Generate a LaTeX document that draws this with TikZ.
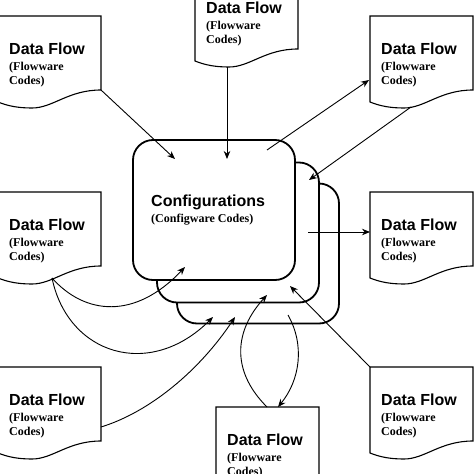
\documentclass[tikz,border=0pt]{standalone}
\usepackage{fontspec}
\setmainfont{Liberation Serif}
\setsansfont{Liberation Sans}
\usetikzlibrary{arrows.meta}

\tikzset{
  docline/.style={line width=1.1pt},
  cfgbox/.style={draw, line width=1.8pt, rounded corners=20pt, fill=white, rectangle,
    minimum width=162pt, minimum height=140pt, inner sep=0pt},
  conn/.style={line width=0.9pt, -{Stealth[length=8pt,width=6.5pt]}},
  titletext/.style={font=\sffamily\bfseries\fontsize{16}{18}\selectfont, inner sep=0pt, anchor=base west},
  subtext/.style={font=\rmfamily\bfseries\fontsize{12}{14}\selectfont, inner sep=0pt, anchor=base west},
}

\newcommand\DocShape[3]{%
  \begin{scope}[shift={(#2,#3)}]
    \draw[docline, fill=white] (0,0) -- (103,0) -- (103,74)
      .. controls (70,74) and (55,92) .. (34,92)
      .. controls (20,92) and (10,90) .. (0,86) -- cycle;
    \node[titletext] (#1) at (11,38) {Data Flow};
    \node[subtext] (#1-a) at (11,54) {(Flowware};
    \node[subtext] (#1-b) at (11,68) {Codes)};
  \end{scope}}

\begin{document}
\begin{tikzpicture}[x=1pt, y=-1pt]
\fill[white] (0,0) rectangle (474,474);
\useasboundingbox (0,0) rectangle (474,474);

% configuration boxes
\node[cfgbox] (box3) at (258,253.5) {};
\node[cfgbox] (box2) at (238,232.5) {};
\node[cfgbox] (box1) at (214,210) {};
\node[titletext] (cfgt) at (151,206) {Configurations};
\node[subtext] (cfgs) at (151,222) {(Configware Codes)};

% documents
\DocShape{d1}{-2}{16}
\DocShape{d2}{195}{-25}
\DocShape{d3}{370}{16}
\DocShape{d4}{-2}{192}
\DocShape{d5}{370}{192}
\DocShape{d6}{-2}{367}
\DocShape{d7}{370}{367}
\DocShape{d8}{216}{407}

% connector end points
\coordinate (a1s) at (101,90);   \coordinate (a1e) at (175,159);
\coordinate (a2s) at (227,67);   \coordinate (a2e) at (227,159);
\coordinate (a3s) at (267,150);  \coordinate (a3e) at (369,80);
\coordinate (a4s) at (411,107);  \coordinate (a4e) at (309,180);
\coordinate (a5s) at (308,232);  \coordinate (a5e) at (370,232);
\coordinate (a6s) at (370,367);  \coordinate (a6e) at (290,286);
\coordinate (a7s) at (52,278);   \coordinate (a7e) at (185,267);
\coordinate (a8e) at (213,317);
\coordinate (a9s) at (101,427);  \coordinate (a9e) at (235,317);
\coordinate (b1s) at (267,407);  \coordinate (b1e) at (267,295);
\coordinate (b2s) at (288,315);  \coordinate (b2e) at (278,407);

% connectors
\draw[conn] (a1s) -- (a1e);
\draw[conn] (a2s) -- (a2e);
\draw[conn] (a3s) -- (a3e);
\draw[conn] (a4s) -- (a4e);
\draw[conn] (a5s) -- (a5e);
\draw[conn] (a6s) -- (a6e);
\draw[conn] (a7s) .. controls (85,315) and (135,320) .. (a7e);
\draw[conn] (a7s) .. controls (68,355) and (150,380) .. (a8e);
\draw[conn] (a9s) .. controls (150,412) and (200,370) .. (a9e);
\draw[conn] (b1s) .. controls (230,370) and (235,330) .. (b1e);
\draw[conn] (b2s) .. controls (305,345) and (300,380) .. (b2e);
\end{tikzpicture}
\end{document}
